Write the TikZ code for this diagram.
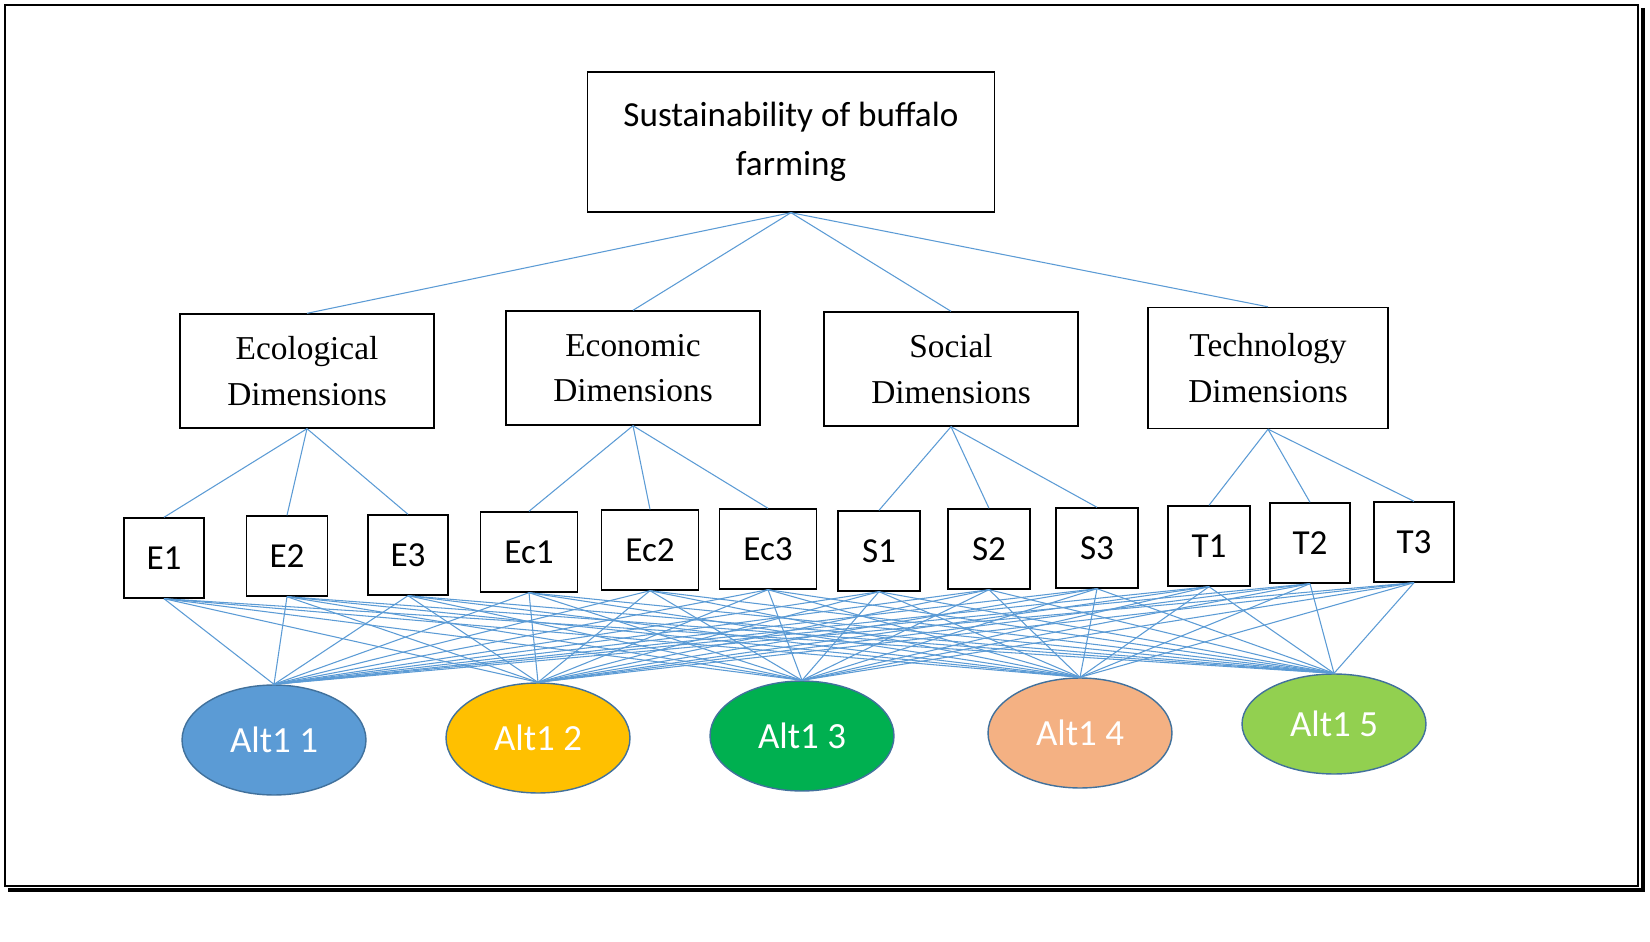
\documentclass[tikz,border=0pt]{standalone}
\usepackage{fontspec}
\setmainfont{Carlito}
\newfontfamily\serifdim{Liberation Serif}
\usetikzlibrary{shapes.geometric}
\definecolor{lnk}{RGB}{91,155,213}
\definecolor{cA}{RGB}{91,155,213}
\definecolor{cB}{RGB}{255,192,0}
\definecolor{cC}{RGB}{0,176,80}
\definecolor{cD}{RGB}{244,177,131}
\definecolor{cE}{RGB}{146,208,80}
\definecolor{edgeb}{RGB}{65,113,156}
\tikzset{
  topbox/.style={draw,thick,minimum width=8.14cm,minimum height=2.8cm,align=center,font=\fontsize{20}{28}\selectfont},
  dimbox/.style={draw,thick,minimum width=5.08cm,minimum height=2.28cm,align=center,font=\serifdim\fontsize{19}{26}\selectfont},
  smallbox/.style={draw,thick,minimum width=1.6cm,minimum height=1.6cm,font=\fontsize{20}{22}\selectfont},
  altell/.style={ellipse,draw=edgeb,thick,minimum width=3.68cm,minimum height=2.2cm,text=white,font=\fontsize{21}{22}\selectfont},
  lk/.style={draw=lnk,line width=0.6pt}
}
\begin{document}
\begin{tikzpicture}[x=0.02cm,y=-0.02cm]
\useasboundingbox (0,0) rectangle (1650,942);
\fill[white] (0,0) rectangle (1650,942);
\draw[line width=0.6pt] (5,5) rectangle (1638,886);
\draw[line width=2.5pt] (1643,8) -- (1643,890) -- (8,890);
\node[topbox] (top) at (791,142) {Sustainability of buffalo\\farming};
\node[dimbox] (eco) at (307,371) {Ecological\\Dimensions};
\node[dimbox] (econ) at (633,368) {Economic\\Dimensions};
\node[dimbox] (soc) at (951,369) {Social\\Dimensions};
\node[dimbox,minimum width=4.8cm,minimum height=2.42cm] (tech) at (1268,368) {Technology\\Dimensions};
\foreach \d in {eco,econ,soc,tech}
  \draw[lk] (top.south) -- (\d.north);
\foreach \n/\t/\x/\y/\w in {E1/E1/164/558/1.6,E2/E2/287/556/1.62,E3/E3/408/555/1.6,
  Ec1/Ec1/529/552/1.94,Ec2/Ec2/650/550/1.94,Ec3/Ec3/768/549/1.94,
  S1/S1/879/551/1.64,S2/S2/989/549/1.64,S3/S3/1097/548/1.64,
  T1/T1/1209/546/1.64,T2/T2/1310/543/1.6,T3/T3/1414/542/1.6}
  \node[smallbox,minimum width=\w cm] (\n) at (\x,\y) {\t};
\foreach \d/\a/\b/\c in {eco/E1/E2/E3,econ/Ec1/Ec2/Ec3,soc/S1/S2/S3,tech/T1/T2/T3}{
  \draw[lk] (\d.south) -- (\a.north);
  \draw[lk] (\d.south) -- (\b.north);
  \draw[lk] (\d.south) -- (\c.north);
}
\node[altell,fill=cA] (A1) at (274,740) {Alt1 1};
\node[altell,fill=cB] (A2) at (538,738) {Alt1 2};
\node[altell,fill=cC] (A3) at (802,736) {Alt1 3};
\node[altell,fill=cD] (A4) at (1080,733) {Alt1 4};
\node[altell,fill=cE,minimum height=2.0cm] (A5) at (1334,724) {Alt1 5};
\foreach \s in {E1,E2,E3,Ec1,Ec2,Ec3,S1,S2,S3,T1,T2,T3}
  \foreach \a in {A1,A2,A3,A4,A5}
    \draw[lk] (\s.south) -- (\a.north);
\end{tikzpicture}
\end{document}
